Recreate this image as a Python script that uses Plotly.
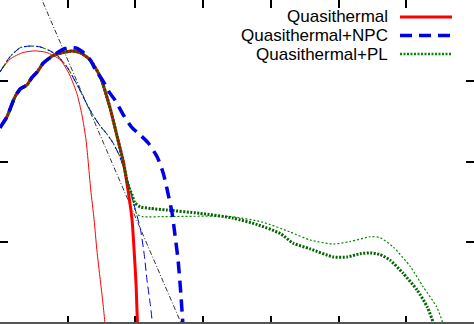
import plotly.graph_objects as go

# ---- data (arbitrary log units) ----
# thick curves: common rising part
common_x = [0.00, 0.10, 0.22, 0.30, 0.40, 0.47, 0.55, 0.64, 0.78]
common_y = [2.42, 2.55, 2.80, 2.90, 2.95, 3.04, 3.11, 3.22, 3.31]

qt_x = common_x + [0.93, 1.06, 1.18, 1.33, 1.48, 1.62, 1.73, 1.82, 1.89, 1.95, 1.98, 2.01, 2.03, 2.04]
qt_y = common_y + [3.35, 3.37, 3.35, 3.26, 3.05, 2.68, 2.31, 2.00, 1.65, 1.28, 0.91, 0.47, 0.00, -0.10]

npc_x = common_x + [0.93, 1.03, 1.14, 1.26, 1.33, 1.43, 1.52, 1.62, 1.70, 1.82, 1.95, 2.07, 2.19,
                    2.32, 2.41, 2.48, 2.54, 2.58, 2.63, 2.67, 2.70, 2.71]
npc_y = common_y + [3.39, 3.41, 3.40, 3.33, 3.26, 3.11, 3.00, 2.85, 2.76, 2.58, 2.42, 2.33, 2.23,
                    2.06, 1.86, 1.61, 1.37, 1.12, 0.78, 0.37, 0.00, -0.10]

pl_x = common_x + [0.93, 1.06, 1.18, 1.33, 1.48, 1.62, 1.73, 1.82, 1.89, 1.95, 1.99, 2.07, 2.22,
                   2.47, 2.95, 3.44, 3.80, 4.14, 4.33, 4.58, 4.92, 5.13, 5.32, 5.47, 5.61, 5.76,
                   5.95, 6.16, 6.31, 6.40, 6.43]
pl_y = common_y + [3.35, 3.37, 3.35, 3.26, 3.05, 2.68, 2.31, 2.00, 1.71, 1.59, 1.49, 1.44, 1.42,
                   1.40, 1.36, 1.30, 1.22, 1.11, 0.99, 0.92, 0.82, 0.82, 0.86, 0.87, 0.85, 0.78,
                   0.62, 0.41, 0.20, 0.00, -0.10]

# thin curves
qt2_x = [0.00, 0.15, 0.34, 0.52, 0.69, 0.89, 1.03, 1.14, 1.21, 1.27, 1.30, 1.34, 1.39, 1.43,
         1.48, 1.52, 1.55, 1.56]
qt2_y = [3.11, 3.27, 3.35, 3.37, 3.35, 3.26, 3.07, 2.83, 2.58, 2.27, 2.02, 1.65, 1.28, 0.91,
         0.54, 0.25, 0.00, -0.10]

npc2_x = [0.00, 0.15, 0.30, 0.44, 0.59, 0.74, 0.86, 0.99, 1.14, 1.29, 1.37, 1.48, 1.58, 1.67,
          1.77, 1.89, 1.99, 2.07, 2.13, 2.17, 2.22, 2.25, 2.26]
npc2_y = [3.11, 3.30, 3.41, 3.43, 3.42, 3.37, 3.30, 3.17, 2.95, 2.70, 2.58, 2.44, 2.34, 2.23,
          2.06, 1.75, 1.43, 1.18, 0.85, 0.54, 0.23, 0.00, -0.10]

pl2_x = [0.00, 0.15, 0.30, 0.44, 0.59, 0.74, 0.86, 0.99, 1.14, 1.29, 1.37, 1.48, 1.58, 1.67,
         1.77, 1.89, 1.96, 2.02, 2.10, 2.51, 3.40, 3.88, 4.28, 4.58, 4.92, 5.17, 5.47, 5.61,
         5.81, 6.06, 6.25, 6.45, 6.54, 6.56]
pl2_y = [3.11, 3.30, 3.41, 3.43, 3.42, 3.37, 3.30, 3.17, 2.95, 2.70, 2.58, 2.44, 2.34, 2.23,
         2.06, 1.75, 1.53, 1.35, 1.32, 1.32, 1.32, 1.25, 1.13, 1.03, 0.98, 1.01, 1.07, 1.06,
         0.94, 0.70, 0.45, 0.20, 0.00, -0.10]

# straight dash-dot reference line
ref_x = [0.517, 2.777]
ref_y = [4.2, -0.2]

legend_names = ["Quasithermal", "Quasithermal+NPC", "Quasithermal+PL"]

x_ticks = [1, 2, 3, 4, 5, 6]
y_ticks = [1, 2, 3]

RED = "#ff0000"
BLUE = "#0000e6"
GREEN = "#008a00"
DGREEN = "#006400"

fig = go.Figure()

def add(x, y, color, width, dash, smooth=0.6):
    fig.add_trace(go.Scatter(x=x, y=y, mode="lines",
                             line=dict(color=color, width=width, dash=dash,
                                       shape="spline", smoothing=smooth),
                             showlegend=False, hoverinfo="skip"))

add(ref_x, ref_y, "#333333", 1, "5px,2px,1px,2px")
add(qt2_x, qt2_y, RED, 1, "solid")
add(pl2_x, pl2_y, GREEN, 1.2, "2px,2px")
add(npc2_x, npc2_y, BLUE, 1, "8px,4px")
add(qt_x, qt_y, RED, 3, "solid")
add(pl_x, pl_y, DGREEN, 3, "2px,1.5px")
add(npc_x, npc_y, BLUE, 3.5, "12px,7px")

# legend drawn manually (text left, sample right)
leg_styles = [(RED, 3, "solid"), (BLUE, 3.5, "12px,7px"), (GREEN, 2.5, "2px,1.5px")]
leg_text_px = [16, 35.5, 55]
leg_line_px = [17, 35.5, 54]
W, H = 474, 324
shapes = []
annotations = []
for name, (c, w, d), ty, ly in zip(legend_names, leg_styles, leg_text_px, leg_line_px):
    annotations.append(dict(x=389 / W, y=1 - ty / H, xref="paper", yref="paper", text=name,
                            showarrow=False, xanchor="right", yanchor="middle",
                            borderpad=0,
                            font=dict(family="Liberation Sans, Arial, sans-serif", size=17,
                                      color="black")))
    shapes.append(dict(type="line", xref="paper", yref="paper", x0=400 / W, x1=452 / W,
                       y0=1 - ly / H, y1=1 - ly / H, line=dict(color=c, width=w, dash=d)))

# bottom border
shapes.append(dict(type="line", xref="paper", yref="paper", x0=0, x1=1, y0=0, y1=0,
                   line=dict(color="#555555", width=4)))

fig.update_layout(
    width=W, height=H, margin=dict(l=0, r=0, t=0, b=0),
    paper_bgcolor="white", plot_bgcolor="white",
    showlegend=False, shapes=shapes, annotations=annotations,
    xaxis=dict(range=[0, 7.0], tickvals=x_ticks, showticklabels=False, ticks="inside",
               ticklen=8, tickwidth=1.5, tickcolor="black", mirror="ticks",
               showgrid=False, zeroline=False, showline=False),
    yaxis=dict(range=[-0.01, 4.0], tickvals=y_ticks, showticklabels=False, ticks="inside",
               ticklen=8, tickwidth=1.5, tickcolor="black", mirror="ticks",
               showgrid=False, zeroline=False, showline=False),
)

fig.write_html("out.html")
